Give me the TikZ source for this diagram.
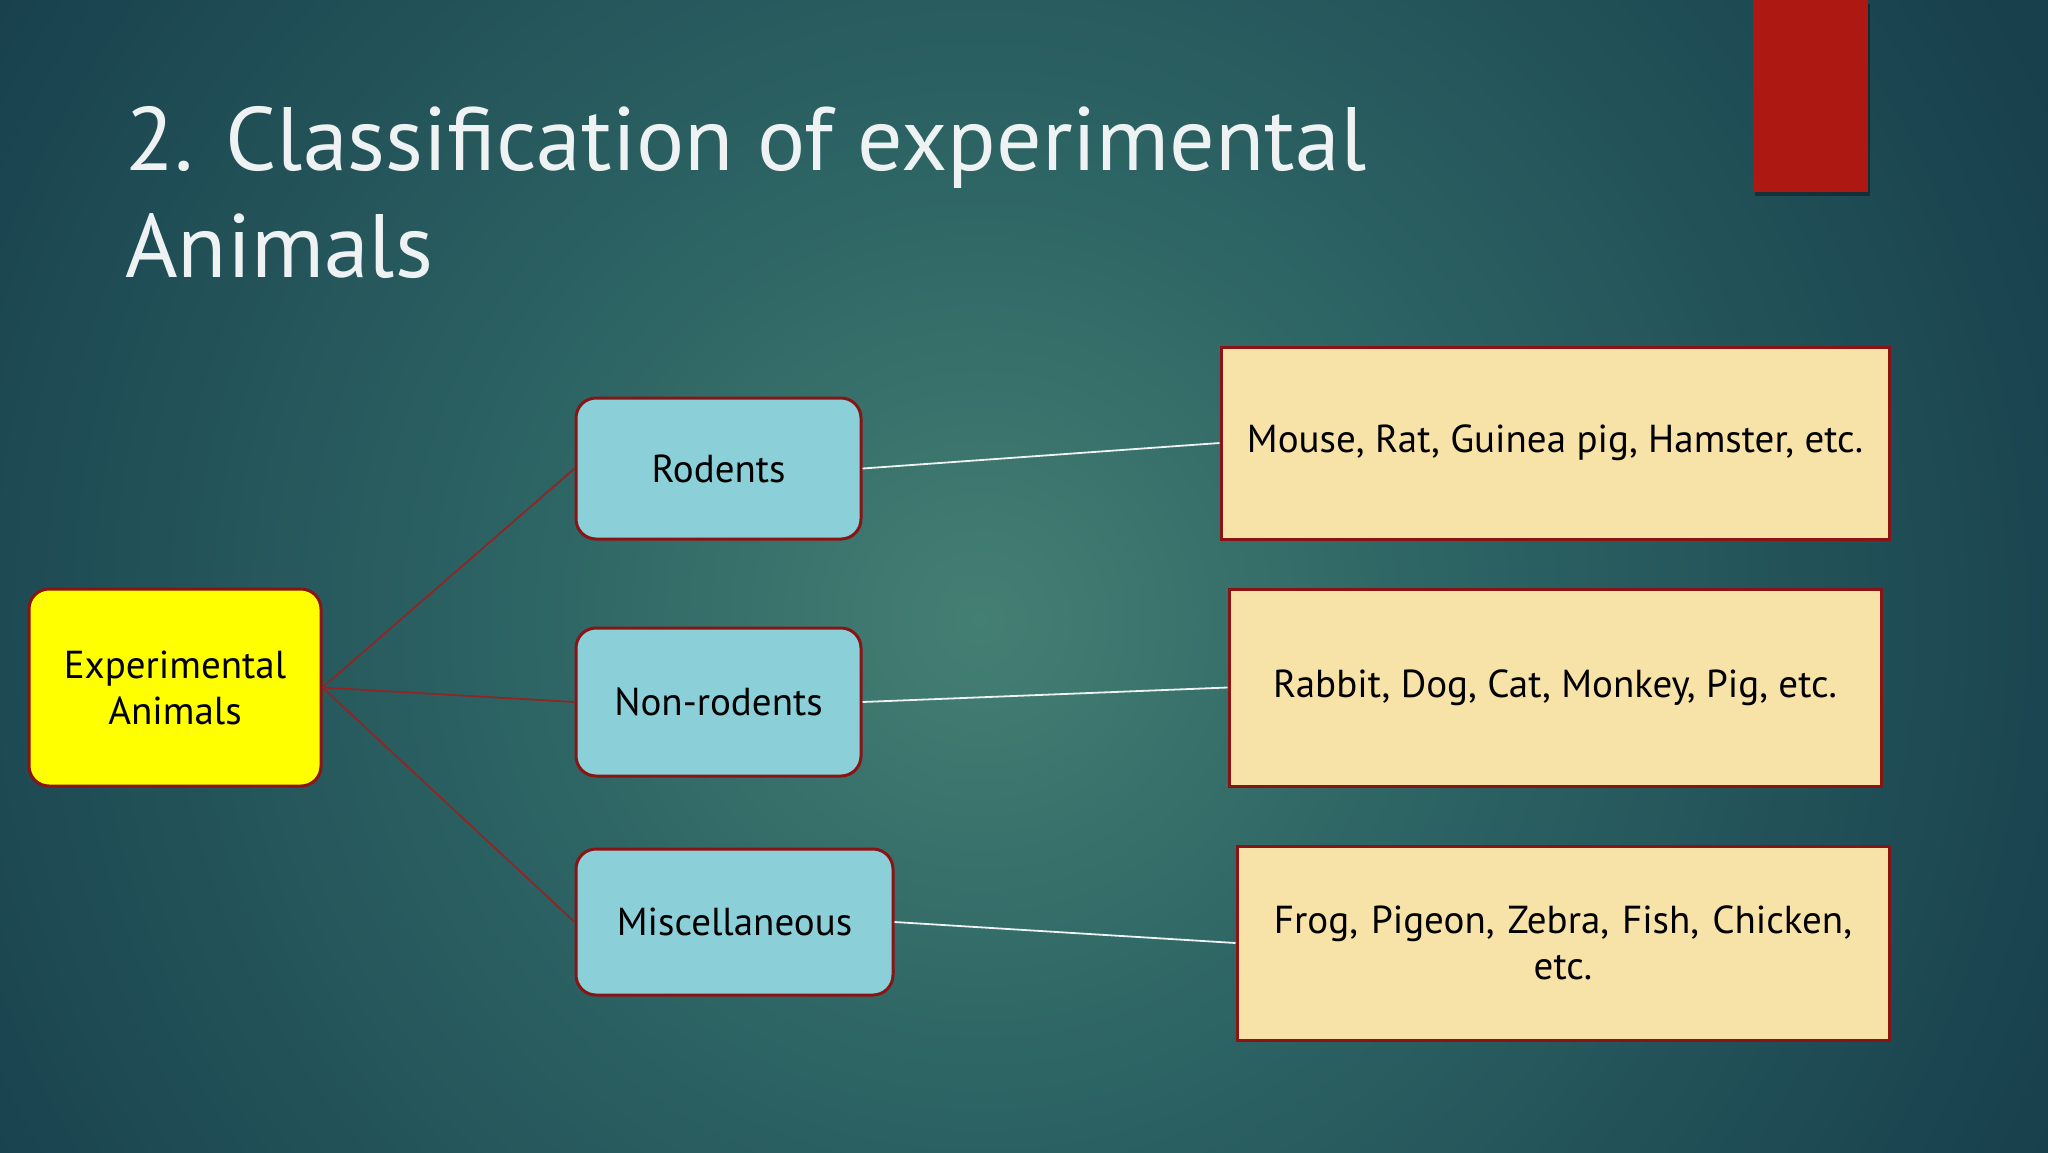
\documentclass[tikz,border=0pt]{standalone}
\usepackage{fontspec}
\setmainfont{PT Sans}
\usetikzlibrary{positioning}
\definecolor{bgin}{HTML}{447F73}
\definecolor{bgmid}{HTML}{2D6464}
\definecolor{bgout}{HTML}{173F4C}
\definecolor{redbar}{HTML}{AE1812}
\definecolor{edgered}{HTML}{8A1414}
\definecolor{linkred}{HTML}{8E2626}
\definecolor{bluefill}{HTML}{8BD0D8}
\definecolor{tanfill}{HTML}{F7E2A8}
\definecolor{yellowfill}{HTML}{FFFF00}
\definecolor{titlecol}{HTML}{EEF2F2}
\pgfdeclareradialshading{bgshade}{\pgfpoint{0bp}{0bp}}{color(0bp)=(bgin); color(5bp)=(bgmid); color(13bp)=(bgout); color(50bp)=(bgout)}
\tikzset{
  rootbox/.style={draw=edgered, line width=3pt, fill=yellowfill, rounded corners=20pt, align=center, font=\fontsize{39}{46}\selectfont, text=black},
  catbox/.style={draw=edgered, line width=3pt, fill=bluefill, rounded corners=20pt, align=center, font=\fontsize{39}{46}\selectfont, text=black},
  listbox/.style={draw=edgered, line width=3pt, fill=tanfill, align=center, font=\fontsize{39}{46}\selectfont, text=black},
  leftlink/.style={draw=linkred, line width=1.8pt},
  rightlink/.style={draw=titlecol, line width=1.8pt},
  titletext/.style={anchor=base west, inner sep=0pt, text=titlecol, font=\fontsize{90}{107}\selectfont}
}
\begin{document}
\begin{tikzpicture}[x=1pt,y=-1pt]
\useasboundingbox (0,0) rectangle (2048,1152);
\begin{scope}
\clip (0,0) rectangle (2048,1152);
\fill[bgout] (0,0) rectangle (2048,1152);
\shade[shading=bgshade] (980,620) circle (2300);
\end{scope}
% red bar with shadow
\fill[black, opacity=0.35] (1755,4) rectangle (1870,196);
\fill[redbar] (1753,0) rectangle (1868,192);
% title
\node[titletext] (title1) at (125,170) {2. Classification of experimental};
\node[titletext] (title2) at (125,277) {Animals};
% nodes
\node[rootbox, minimum width=292pt, minimum height=197pt] (root) at (175,687.5) {Experimental\\Animals};
\node[catbox, minimum width=285pt, minimum height=141pt] (rod) at (718.5,468.5) {Rodents};
\node[catbox, minimum width=285pt, minimum height=148pt] (nonrod) at (718.5,702) {Non-rodents};
\node[catbox, minimum width=317pt, minimum height=146pt] (misc) at (734.5,922) {Miscellaneous};
\node[listbox, minimum width=668pt, minimum height=192pt] (l1) at (1555,443) {Mouse, Rat, Guinea pig, Hamster, etc.};
\node[listbox, minimum width=652pt, minimum height=197pt] (l2) at (1555,687.5) {Rabbit, Dog, Cat, Monkey, Pig, etc.};
\node[listbox, minimum width=652pt, minimum height=194pt, text width=610pt] (l3) at (1563,943) {Frog, Pigeon, Zebra, Fish, Chicken,\\etc.};
% connectors
\draw[leftlink] (root.east) -- (rod.west);
\draw[leftlink] (root.east) -- (nonrod.west);
\draw[leftlink] (root.east) -- (misc.west);
\draw[rightlink] (rod.east) -- (l1.west);
\draw[rightlink] (nonrod.east) -- (l2.west);
\draw[rightlink] (misc.east) -- (l3.west);
\end{tikzpicture}
\end{document}
